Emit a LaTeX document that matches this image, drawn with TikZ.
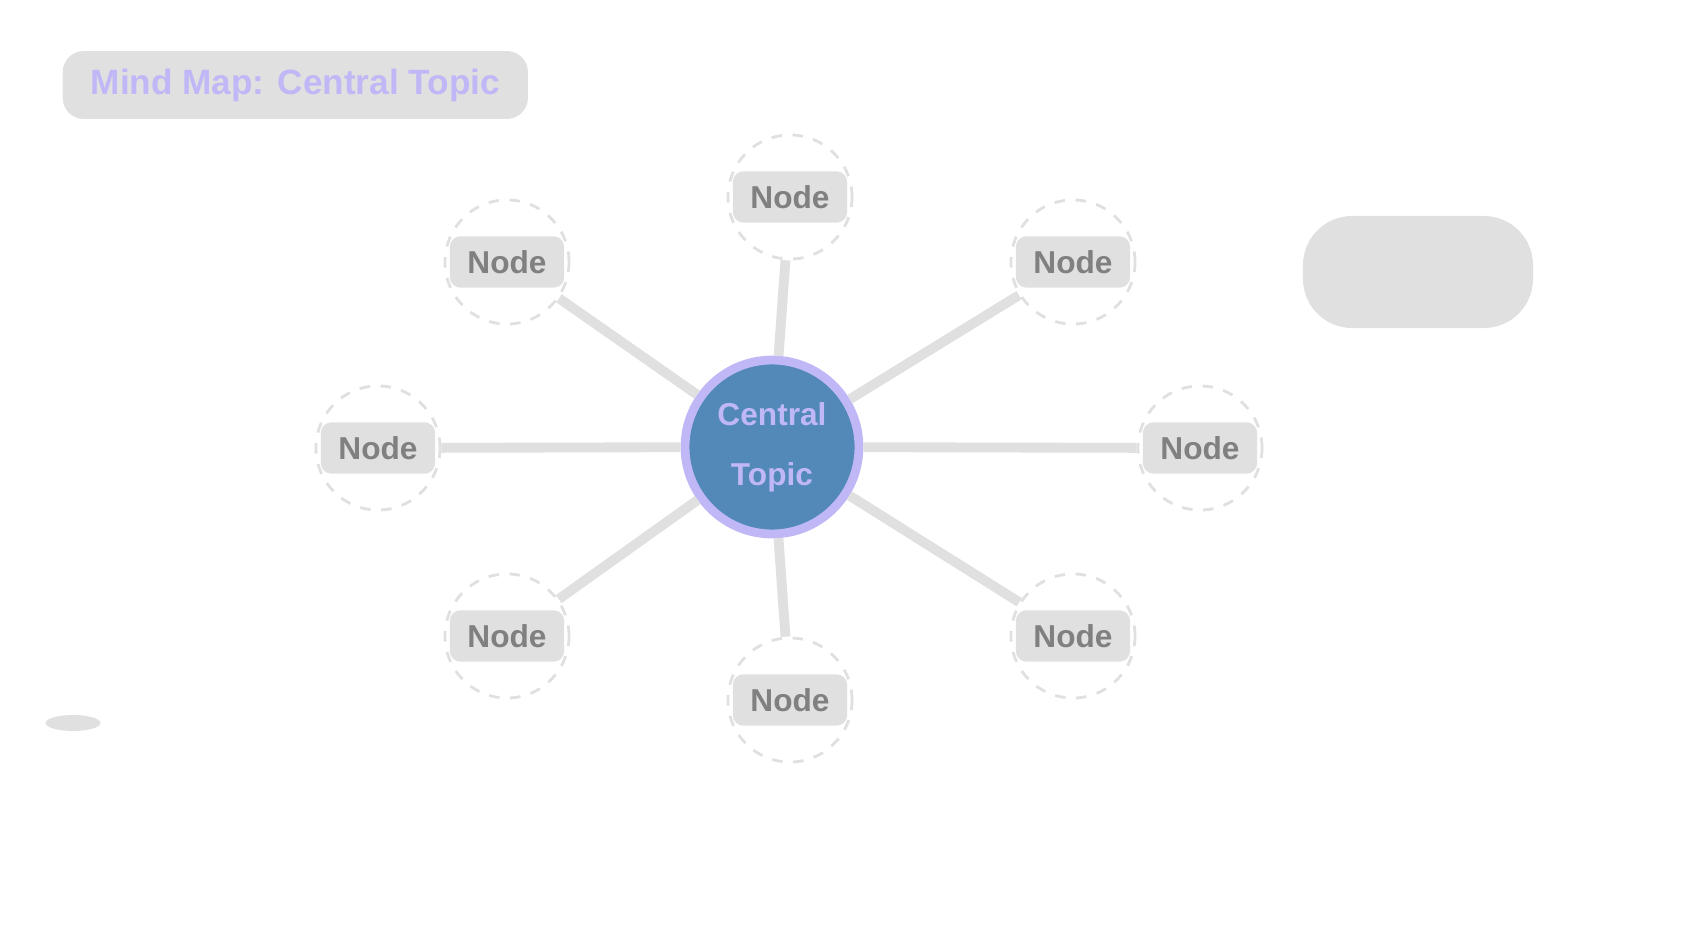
\documentclass[tikz,border=0pt]{standalone}
\usepackage{fontspec}
\setmainfont{Liberation Sans}
\setsansfont{Liberation Sans}
\usetikzlibrary{shapes.geometric}
\definecolor{linegray}{HTML}{E0E0E0}
\definecolor{textgray}{HTML}{808080}
\definecolor{lav}{HTML}{C0B8F6}
\definecolor{centreblue}{HTML}{5289B8}
\tikzset{
  outer/.style={circle, minimum size=1.24cm, draw=linegray, dashed, line width=0.8pt, inner sep=0pt},
  lbl/.style={fill=linegray, text=textgray, rounded corners=3pt, inner xsep=5pt, inner ysep=4pt, font=\small\bfseries},
  conn/.style={draw=linegray, line width=2.8pt},
  hub/.style={circle, minimum size=1.50cm, fill=centreblue, draw=lav, line width=2.5pt, text=lav, font=\small\bfseries, align=center}
}
\begin{document}
\begin{tikzpicture}[x=0.01cm,y=-0.01cm]
\useasboundingbox (0,0) rectangle (1687,949);
% title
\node[fill=linegray, rounded corners=6pt, text=lav, font=\fontsize{10}{12}\selectfont\bfseries, inner xsep=8pt, inner ysep=5pt, anchor=west] (title) at (62,85) {Mind Map: Central Topic};
% hub
\node[hub] (c) at (772,447) {Central\\[6pt]Topic};
% outer nodes
\foreach \n/\x/\y in {t/790/197, tl/507/262, tr/1073/262, l/378/448, r/1200/448, bl/507/636, b/790/700, br/1073/636}{
  \node[outer] (o\n) at (\x,\y) {};
}
\foreach \n in {t,tl,tr,l,r,bl,b,br}{
  \draw[conn] (c) -- (o\n);
  \node[lbl] (l\n) at (o\n) {Node};
}
% note shape at right
\node[fill=linegray, rounded corners=14pt, minimum width=2.3cm, minimum height=1.12cm] (note) at (1418,272) {};
% small mark at bottom left
\node[fill=linegray, ellipse, minimum width=0.55cm, minimum height=0.16cm, inner sep=0pt] (mark) at (73,723) {};
\end{tikzpicture}
\end{document}
